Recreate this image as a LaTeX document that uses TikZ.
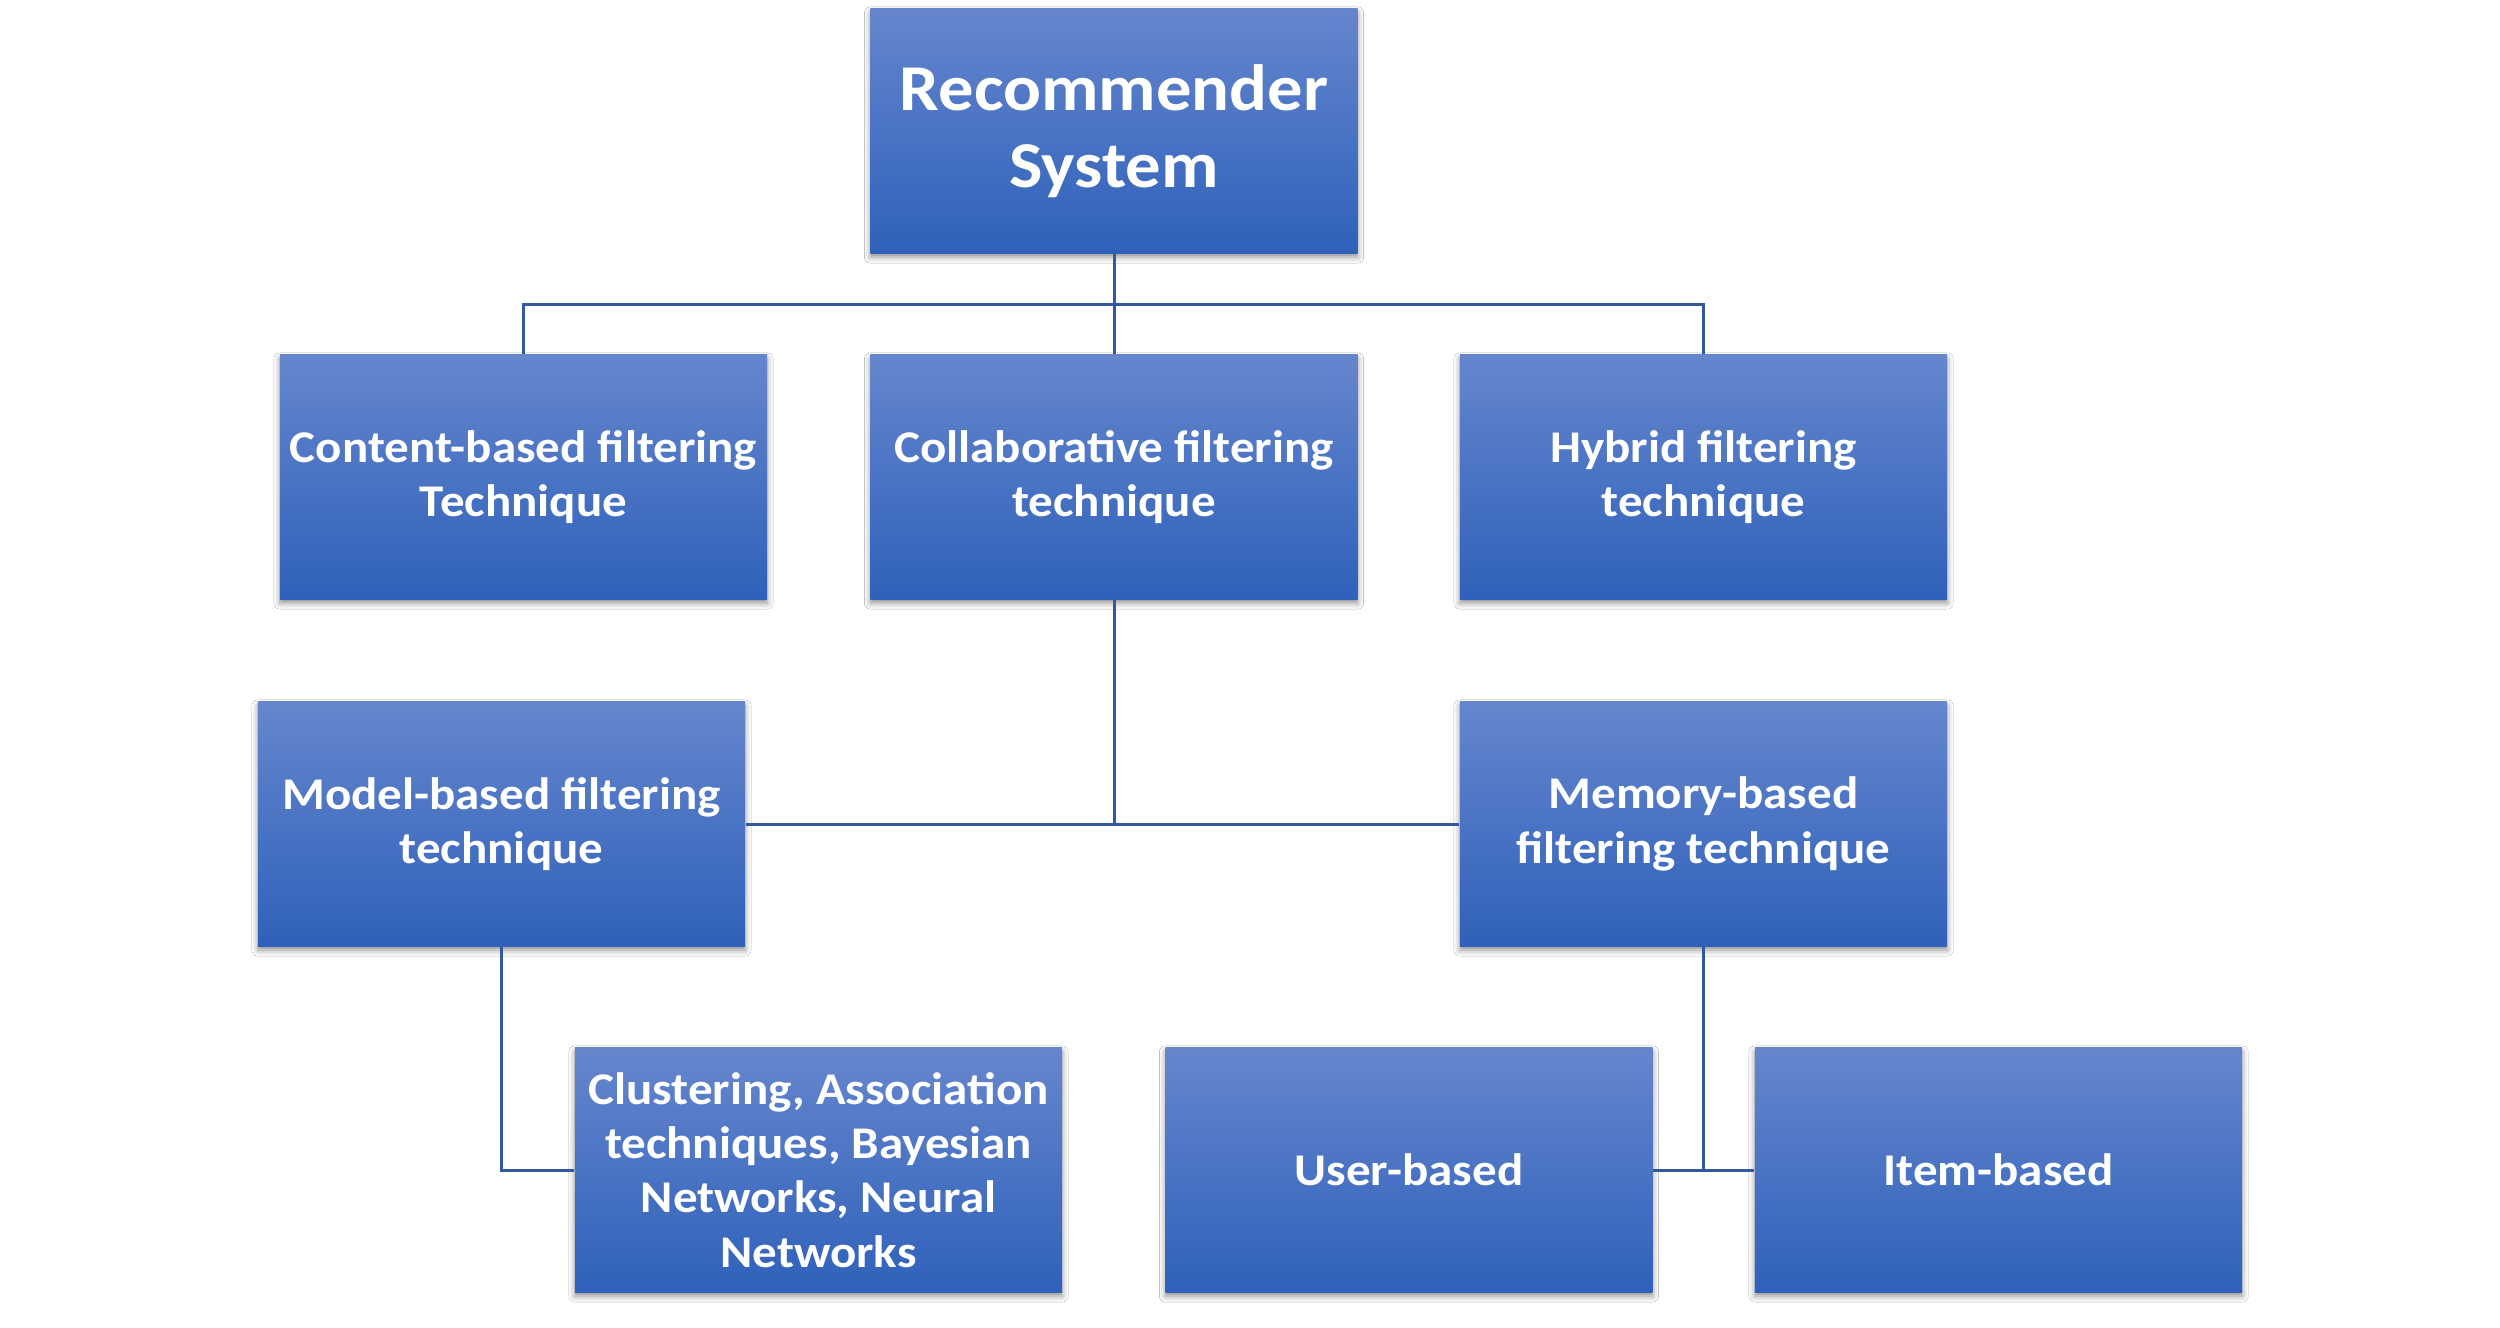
\documentclass[tikz,border=0pt]{standalone}
\usepackage{fontspec}
\setmainfont{Carlito}[FakeStretch=1.08]
\usetikzlibrary{shadows.blur}
\definecolor{boxtop}{HTML}{6586CD}
\definecolor{boxbot}{HTML}{2F61BA}
\definecolor{linecol}{HTML}{34589F}
\tikzset{
  box/.style={rectangle, minimum width=4.87cm, minimum height=2.44cm, inner sep=0pt,
    top color=boxtop, bottom color=boxbot, text=white, align=center,
    font=\bfseries\fontsize{12.9}{15.4}\selectfont,
    blur shadow={shadow xshift=0pt, shadow yshift=-0.04cm, shadow blur radius=0.06cm, shadow opacity=45}},
  rootbox/.style={box, font=\bfseries\fontsize{18.6}{21.9}\selectfont},
  conn/.style={draw=linecol, line width=0.03cm}
}
\begin{document}
\begin{tikzpicture}[x=0.01cm, y=-0.01cm]
\fill[white] (0,0) rectangle (2500,1328);
\useasboundingbox (0,0) rectangle (2500,1328);
% nodes
\node[rootbox] (root) at (1114,131) {Recommender\\System};
\node[box] (content) at (523.5,477) {Content-based filtering\\Technique};
\node[box] (collab) at (1114,477) {Collaborative filtering\\technique};
\node[box] (hybrid) at (1703.5,477) {Hybrid filtering\\technique};
\node[box] (model) at (501.5,824) {Model-based filtering\\technique};
\node[box] (memory) at (1703.5,824) {Memory-based\\filtering technique};
\node[box] (clust) at (818.5,1170) {Clustering, Association\\techniques, Bayesian\\Networks, Neural\\Networks};
\node[box] (user) at (1409,1170) {User-based};
\node[box] (item) at (1998.5,1170) {Item-based};
\coordinate (bus) at (1114,305);
% connectors
\draw[conn] (root.south) -- (bus);
\draw[conn] (content.north) -- (content.north |- bus) -- (hybrid.north |- bus) -- (hybrid.north);
\draw[conn] (bus) -- (collab.north);
\draw[conn] (collab.south) -- (collab.south |- model.east);
\draw[conn] (model.east) -- (memory.west);
\draw[conn] (model.south) |- (clust.west);
\draw[conn] (memory.south) -- (memory.south |- user.east);
\draw[conn] (user.east) -- (item.west);
\end{tikzpicture}
\end{document}
